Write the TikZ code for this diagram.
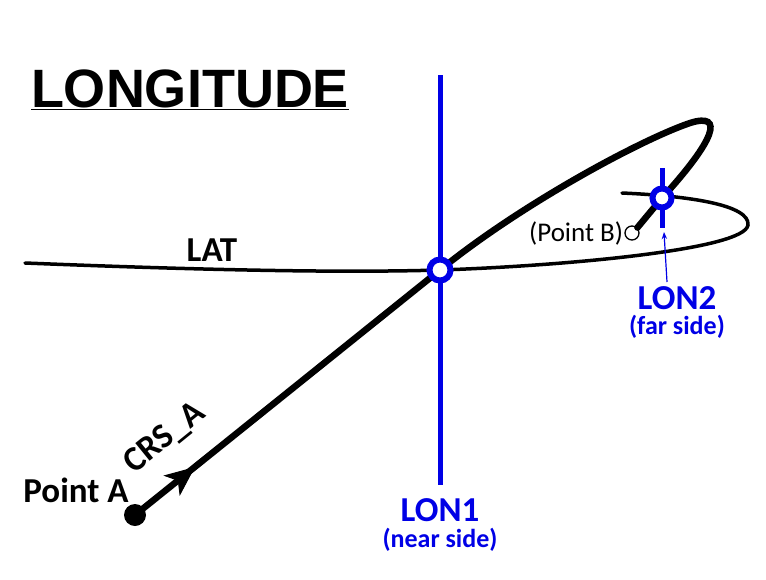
\documentclass[tikz,border=0pt]{standalone}
\usepackage{fontspec}
\setmainfont{Carlito}
\newfontfamily\arialf{Liberation Sans}
\usetikzlibrary{arrows.meta}
\definecolor{lonblue}{RGB}{0,0,230}
\begin{document}
\begin{tikzpicture}[x=1pt,y=-1pt,
  crs/.style={line width=6.5pt,line cap=round},
  lat/.style={line width=3.5pt,line cap=round},
  lon/.style={lonblue,line width=5pt},
  ring/.style={circle,draw=lonblue,line width=6pt,fill=white,minimum size=21pt,inner sep=0pt},
  lbl/.style={font=\fontsize{35}{37}\selectfont\bfseries},
  sub/.style={font=\fontsize{26}{28}\selectfont\bfseries,text=lonblue}]
\useasboundingbox (0,0) rectangle (766,579);
\node[font=\arialf\fontsize{54}{56}\selectfont\bfseries,inner sep=0pt] (title) at (190,90) {\underline{LONGITUDE}};
\coordinate (A) at (135,515);
\coordinate (X) at (440,270);
\coordinate (Y) at (662,198);
\coordinate (latS) at (25,263);
\coordinate (latE) at (622,193);
\node[circle,draw,fill=white,line width=1.3pt,minimum size=14pt,inner sep=0pt] (B) at (632,233) {};
% LON1
\draw[lon] (440,75) coordinate (l1t) -- (440,485) coordinate (l1b);
% LAT curve
\draw[lat] (latS) .. controls (200,270) and (340,273) .. (X)
  .. controls (560,266) and (745,250) .. (748,225)
  .. controls (750,205) and (690,196) .. (latE);
% CRS path
\draw[crs] (A) -- (X) .. controls (520,205) and (640,140) .. (690,123)
  .. controls (725,112) and (715,140) .. (Y) -- (B.north east);
\fill (A) circle (11pt);
\draw[line width=1pt,-{Stealth[length=30pt,width=26pt,inset=8pt]}] (160,495) -- (195,467);
% LON2
\draw[lon] (662,168) -- (662,228);
\node[ring] (r1) at (X) {};
\node[ring,minimum size=19pt] (r2) at (Y) {};
\node[lbl,text=lonblue] (lon2) at (677,298) {LON2};
\node[sub] (fs) at (677,327) {(far side)};
\draw[lonblue,line width=1.2pt,-{Stealth[length=7pt]}] (667,282) coordinate (ab) -- (664,232);
\node[lbl,text=lonblue] (lon1) at (440,510) {LON1};
\node[sub] (ns) at (440,540) {(near side)};
\node[lbl] (lat) at (212,250) {LAT};
\node[lbl] (pa) at (76,490) {Point A};
\node[lbl,rotate=39] (crsl) at (165,438) {CRS\_A};
\node[font=\fontsize{27}{29}\selectfont,anchor=east,inner sep=1pt] (pb) at (B.west) {(Point B)};
\end{tikzpicture}
\end{document}
